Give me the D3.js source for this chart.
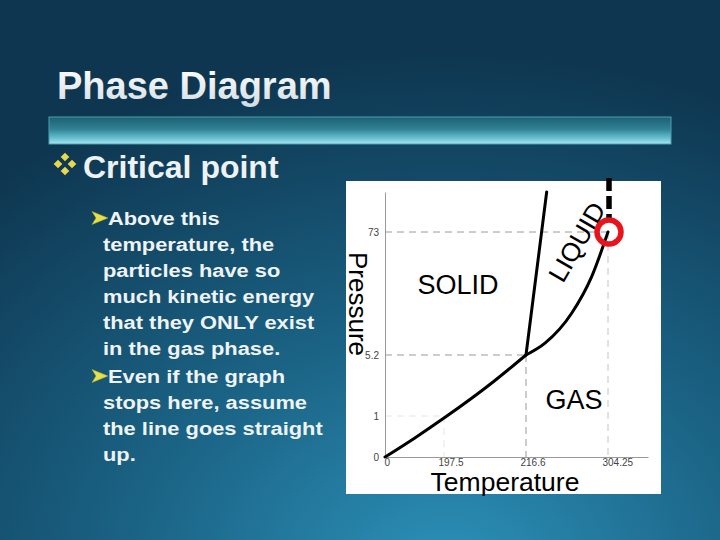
<!DOCTYPE html>
<html>
<head>
<meta charset="utf-8">
<script src="https://cdn.jsdelivr.net/npm/d3@7"></script>
<style>
  html, body { margin: 0; padding: 0; background: #0f3a55; }
  svg { display: block; font-family: "Liberation Sans", Arial, sans-serif; }
</style>
</head>
<body>
<div id="slide"></div>
<script>
// chart values
var xTicks = [0, 197.5, 216.6, 304.25];
var yTicks = [0, 1, 5.2, 73];
var xTickLabels = ["0", "197.5", "216.6", "304.25"];
var yTickLabels = ["0", "1", "5.2", "73"];

var sublimation = [[0, 0], [98.7, 0.46], [197.5, 0.95], [209, 3.36], [216.6, 5.2]];
var vaporization = [[216.6, 5.2], [236.9, 11.7], [265.4, 28.2], [286.8, 48.4], [304.25, 73]];
var melting = [[216.6, 5.2], [238.7, 100]];
var criticalPoint = [304.25, 73];

var guides = [
  {x: [0, 304.25], y: [73, 73], color: "#9a9a9a"},
  {x: [0, 216.6], y: [5.2, 5.2], color: "#9a9a9a"},
  {x: [216.6, 216.6], y: [5.2, 0], color: "#9a9a9a"},
  {x: [304.25, 304.25], y: [73, 0], color: "#c4c4c4"},
  {x: [197.5, 197.5], y: [1, 0], color: "#e6e6e6"},
  {x: [0, 197.5], y: [1, 1], color: "#e6e6e6"}
];

var phaseLabels = ["SOLID", "GAS", "LIQUID"];

var title = "Phase Diagram";
var heading = "Critical point";
var bullets = [
  ["Above this", "temperature, the", "particles have so", "much kinetic energy", "that they ONLY exist", "in the gas phase."],
  ["Even if the graph", "stops here, assume", "the line goes straight", "up."]
];

var W = 720, H = 540;

var svg = d3.select("#slide").append("svg")
  .attr("width", W)
  .attr("height", H);

var defs = svg.append("defs");

var bg = defs.append("radialGradient")
  .attr("id", "bg")
  .attr("cx", "62%").attr("cy", "105%").attr("r", "95%");
bg.append("stop").attr("offset", "0%").attr("stop-color", "#2c90b8");
bg.append("stop").attr("offset", "45%").attr("stop-color", "#1b6486");
bg.append("stop").attr("offset", "100%").attr("stop-color", "#0e3650");

var bar = defs.append("linearGradient")
  .attr("id", "bar")
  .attr("x1", 0).attr("y1", 0).attr("x2", 0).attr("y2", 1);
bar.append("stop").attr("offset", "0%").attr("stop-color", "#1d5f72");
bar.append("stop").attr("offset", "45%").attr("stop-color", "#2f8294");
bar.append("stop").attr("offset", "80%").attr("stop-color", "#6cc3d2");
bar.append("stop").attr("offset", "100%").attr("stop-color", "#a8e6ef");

var titleGrad = defs.append("linearGradient")
  .attr("id", "titleGrad")
  .attr("x1", 0).attr("y1", 0).attr("x2", 0).attr("y2", 1);
titleGrad.append("stop").attr("offset", "0%").attr("stop-color", "#ffffff");
titleGrad.append("stop").attr("offset", "100%").attr("stop-color", "#d4dde3");

svg.append("rect")
  .attr("width", W)
  .attr("height", H)
  .attr("fill", "url(#bg)");

// title and bar
svg.append("text")
  .attr("x", 57)
  .attr("y", 99)
  .attr("font-size", 38)
  .attr("font-weight", "bold")
  .attr("fill", "url(#titleGrad)")
  .text(title);

svg.append("rect")
  .attr("x", 49)
  .attr("y", 117)
  .attr("width", 622)
  .attr("height", 27)
  .attr("fill", "url(#bar)")
  .attr("stroke", "#4a9fb0")
  .attr("stroke-width", 1);

// diamond bullet
var diamond = function(cx, cy, r) {
  return "M" + cx + "," + (cy - r) + "L" + (cx + r) + "," + cy +
    "L" + cx + "," + (cy + r) + "L" + (cx - r) + "," + cy + "Z";
};
[[65, 157], [58, 164], [72, 164], [65, 171]].forEach(function(p) {
  svg.append("path")
    .attr("d", diamond(p[0], p[1], 4.3))
    .attr("fill", "#e9d84c");
});

svg.append("text")
  .attr("x", 83)
  .attr("y", 178)
  .attr("font-size", 32)
  .attr("font-weight", "bold")
  .attr("fill", "#eef2f4")
  .text(heading);

// arrow bullets + body text
var lineH = 26;
var arrow = function(x, y) {
  return "M" + x + "," + (y - 6.5) + "L" + (x + 16) + "," + y + "L" + x + "," + (y + 6.5) +
    "L" + (x + 4) + "," + y + "Z";
};
var baseY = 225;
bullets.forEach(function(lines, bi) {
  svg.append("path")
    .attr("d", arrow(92, baseY - 7))
    .attr("fill", "#e6e04a")
    .attr("stroke", "#b8a820")
    .attr("stroke-width", 0.5);
  lines.forEach(function(t, li) {
    svg.append("text")
      .attr("transform", "translate(" + (li === 0 ? 108 : 103) + "," + baseY + ") scale(1.15,1)")
      .attr("font-size", 19)
      .attr("font-weight", "bold")
      .attr("fill", "#f0f3f5")
      .text(t);
    baseY += lineH;
  });
  baseY += 2;
});

// chart panel
var box = {x: 346, y: 181, w: 315, h: 313};
svg.append("rect")
  .attr("x", box.x)
  .attr("y", box.y)
  .attr("width", box.w)
  .attr("height", box.h)
  .attr("fill", "#ffffff");

var x = d3.scaleLinear()
  .domain([0, 197.5, 216.6, 304.25, 350])
  .range([385, 444, 526, 608, 648]);

var y = d3.scaleLinear()
  .domain([0, 1, 5.2, 73, 100])
  .range([457, 416, 355, 232, 192]);

var g = svg.append("g");

// guide lines
g.selectAll(".guide")
  .data(guides)
  .enter().append("line")
  .attr("class", "guide")
  .attr("x1", function(d) { return x(d.x[0]); })
  .attr("x2", function(d) { return x(d.x[1]); })
  .attr("y1", function(d) { return y(d.y[0]); })
  .attr("y2", function(d) { return y(d.y[1]); })
  .attr("stroke", function(d) { return d.color; })
  .attr("stroke-width", 1)
  .attr("stroke-dasharray", "7,5");

var xAxis = d3.axisBottom(x)
  .tickValues(xTicks)
  .tickSize(0)
  .tickFormat(function(d, i) { return xTickLabels[i]; });

var yAxis = d3.axisLeft(y)
  .tickValues(yTicks)
  .tickSize(0)
  .tickFormat(function(d, i) { return yTickLabels[i]; });

var gx = g.append("g")
  .attr("transform", "translate(0," + y(0) + ")")
  .call(xAxis);
gx.select(".domain").attr("stroke", "#9a9a9a");
gx.selectAll("text")
  .attr("font-family", "'Liberation Sans', Arial, sans-serif")
  .attr("font-size", 10)
  .attr("fill", "#444")
  .attr("text-anchor", "start")
  .attr("dx", function(d) { return d === 0 ? -1 : -6; })
  .attr("dy", "0.85em")
  .attr("y", 0);

var gy = g.append("g")
  .attr("transform", "translate(" + x(0) + ",0)")
  .call(yAxis);
gy.select(".domain").attr("stroke", "#9a9a9a");
gy.selectAll("text")
  .attr("font-family", "'Liberation Sans', Arial, sans-serif")
  .attr("font-size", 10)
  .attr("fill", "#444")
  .attr("x", -6);

// phase boundaries
var line = d3.line()
  .x(function(d) { return x(d[0]); })
  .y(function(d) { return y(d[1]); })
  .curve(d3.curveMonotoneX);

[sublimation, vaporization, melting].forEach(function(pts) {
  g.append("path")
    .attr("d", line(pts))
    .attr("fill", "none")
    .attr("stroke", "#000")
    .attr("stroke-width", 3)
    .attr("stroke-linecap", "round");
});

// region labels
g.append("text")
  .attr("x", 458)
  .attr("y", 294)
  .attr("text-anchor", "middle")
  .attr("font-size", 27)
  .text(phaseLabels[0]);

g.append("text")
  .attr("x", 574)
  .attr("y", 409)
  .attr("text-anchor", "middle")
  .attr("font-size", 27)
  .text(phaseLabels[1]);

g.append("text")
  .attr("transform", "translate(563,284) rotate(-60)")
  .attr("font-size", 26)
  .text(phaseLabels[2]);

// axis titles
g.append("text")
  .attr("transform", "translate(349,304) rotate(90)")
  .attr("text-anchor", "middle")
  .attr("font-size", 26)
  .text("Pressure");

g.append("text")
  .attr("x", 505)
  .attr("y", 491)
  .attr("text-anchor", "middle")
  .attr("font-size", 26.5)
  .text("Temperature");

// critical point marker
var cx = x(criticalPoint[0]) + 1, cy = y(criticalPoint[1]);
svg.append("line")
  .attr("x1", cx)
  .attr("x2", cx)
  .attr("y1", box.y - 3)
  .attr("y2", cy - 10)
  .attr("stroke", "#000")
  .attr("stroke-width", 5.5)
  .attr("stroke-dasharray", "13,5");

svg.append("circle")
  .attr("cx", cx)
  .attr("cy", cy)
  .attr("r", 12)
  .attr("fill", "none")
  .attr("stroke", "#e8141c")
  .attr("stroke-width", 5.5);
</script>
</body>
</html>
